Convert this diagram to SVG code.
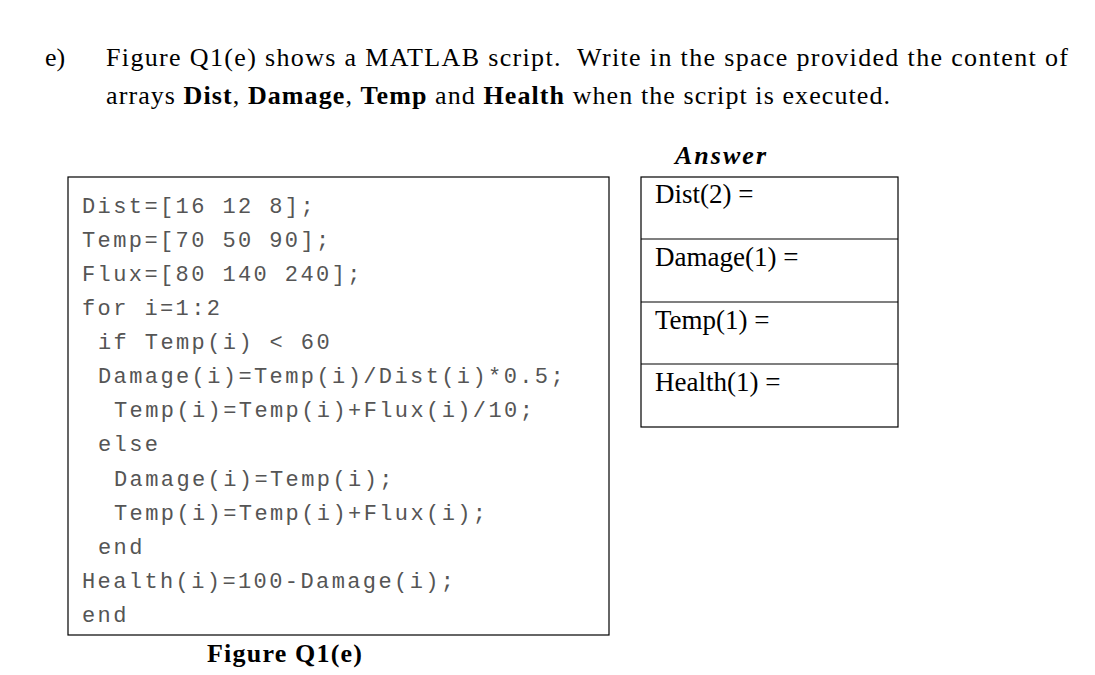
<svg xmlns="http://www.w3.org/2000/svg" width="1095" height="675" viewBox="0 0 1095 675">
<style>
.s{font-family:"Liberation Serif",serif;font-size:26px;fill:#000}
.a{font-size:27px}
.m{font-family:"Liberation Mono",monospace;font-size:22px;fill:#555;letter-spacing:2.4px}
.b{fill:none;stroke:#000;stroke-width:1.2}
</style>
<rect width="1095" height="675" fill="#fff"/>
<text class="s" x="45" y="66">e)</text>
<text class="s" x="106" y="66" textLength="962" xml:space="preserve">Figure Q1(e) shows a MATLAB script.  Write in the space provided the content of</text>
<text class="s" x="106" y="104" textLength="784">arrays <tspan font-weight="bold">Dist</tspan>, <tspan font-weight="bold">Damage</tspan>, <tspan font-weight="bold">Temp</tspan> and <tspan font-weight="bold">Health</tspan> when the script is executed.</text>
<rect class="b" x="68" y="177" width="541" height="458"/>
<g class="m">
<text x="82" y="213">Dist=[16 12 8];</text>
<text x="82" y="247">Temp=[70 50 90];</text>
<text x="82" y="281">Flux=[80 140 240];</text>
<text x="82" y="315">for i=1:2</text>
<text x="98" y="349">if Temp(i) &lt; 60</text>
<text x="98" y="383">Damage(i)=Temp(i)/Dist(i)*0.5;</text>
<text x="114" y="417">Temp(i)=Temp(i)+Flux(i)/10;</text>
<text x="98" y="451">else</text>
<text x="114" y="486">Damage(i)=Temp(i);</text>
<text x="114" y="520">Temp(i)=Temp(i)+Flux(i);</text>
<text x="98" y="554">end</text>
<text x="82" y="588">Health(i)=100-Damage(i);</text>
<text x="82" y="622">end</text>
</g>
<text class="s" x="207" y="662" font-weight="bold" textLength="155">Figure Q1(e)</text>
<text class="s" x="675" y="164" font-weight="bold" font-style="italic" textLength="91">Answer</text>
<rect class="b" x="641" y="177" width="257" height="250"/>
<line class="b" x1="641" y1="239" x2="898" y2="239"/>
<line class="b" x1="641" y1="302" x2="898" y2="302"/>
<line class="b" x1="641" y1="364" x2="898" y2="364"/>
<text class="s a" x="655" y="203">Dist(2) =</text>
<text class="s a" x="655" y="266">Damage(1) =</text>
<text class="s a" x="655" y="329">Temp(1) =</text>
<text class="s a" x="655" y="391">Health(1) =</text>
</svg>
